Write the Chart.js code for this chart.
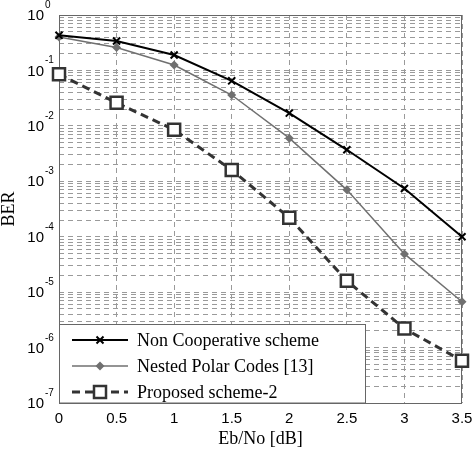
<!DOCTYPE html>
<html>
<head>
<meta charset="utf-8">
<script src="https://cdn.jsdelivr.net/npm/chart.js@4"></script>
<style>
  body { margin: 0; background: #fff; }
  canvas { display: block; }
</style>
</head>
<body>
<canvas id="chart" width="474" height="453"></canvas>
<script>
'use strict';

// Eb/No values on the x axis (dB)
const ebNo = [0, 0.5, 1, 1.5, 2, 2.5, 3, 3.5];

// BER
const berNonCoop = [0.43, 0.34, 0.19, 0.065, 0.017, 0.0037, 0.00074, 0.0001];
const berNested = [0.40, 0.26, 0.125, 0.036, 0.006, 0.0007, 0.000049, 0.0000067];
const berProposed = [0.085, 0.026, 0.0085, 0.0016, 0.00022, 0.000016, 0.0000022, 0.00000058];

// Series names
const seriesNames = ['Non Cooperative scheme', 'Nested Polar Codes [13]', 'Proposed scheme-2'];

// Tick labels
const xTicks = [0, 0.5, 1, 1.5, 2, 2.5, 3, 3.5];
const yExponents = [0, -1, -2, -3, -4, -5, -6, -7];

// Plot box in px
const PLOT = { left: 59, right: 462, top: 15, bottom: 403 };

const SERIF = '"Liberation Serif", "DejaVu Serif", serif';
const SANS = '"Liberation Sans", Arial, sans-serif';

// Grid lines at 1..9 x 10^k
const yGridValues = [];
yExponents.slice().reverse().forEach(e => {
  for (let m = 1; m <= 9; m++) {
    if (e === 0 && m > 1) break;
    yGridValues.push(m * Math.pow(10, e));
  }
});

const toPoints = (ys) => ys.map((y, i) => ({ x: ebNo[i], y: y }));

// Marker drawing, used for the legend
function drawMarker(ctx, style, x, y) {
  ctx.save();
  ctx.setLineDash([]);
  if (style === 'cross') {
    ctx.strokeStyle = '#000';
    ctx.lineWidth = 2;
    ctx.beginPath();
    ctx.moveTo(x - 3.5, y - 3.5); ctx.lineTo(x + 3.5, y + 3.5);
    ctx.moveTo(x + 3.5, y - 3.5); ctx.lineTo(x - 3.5, y + 3.5);
    ctx.stroke();
  } else if (style === 'diamond') {
    ctx.fillStyle = '#707070';
    ctx.beginPath();
    ctx.moveTo(x, y - 4.5); ctx.lineTo(x + 4.5, y);
    ctx.lineTo(x, y + 4.5); ctx.lineTo(x - 4.5, y);
    ctx.closePath();
    ctx.fill();
  } else {
    ctx.fillStyle = '#fff';
    ctx.strokeStyle = '#333';
    ctx.lineWidth = 2.5;
    ctx.fillRect(x - 6, y - 6, 12, 12);
    ctx.strokeRect(x - 6, y - 6, 12, 12);
  }
  ctx.restore();
}

// White background, frame, y labels with exponents, legend box
const decorations = {
  id: 'decorations',
  beforeDraw(chart) {
    const { ctx } = chart;
    ctx.save();
    ctx.fillStyle = '#fff';
    ctx.fillRect(0, 0, chart.width, chart.height);
    ctx.restore();
  },
  beforeDatasetsDraw(chart) {
    const { ctx, chartArea } = chart;
    ctx.save();
    ctx.strokeStyle = '#666';
    ctx.lineWidth = 1;
    ctx.strokeRect(chartArea.left + 0.5, chartArea.top + 0.5,
      chartArea.right - chartArea.left - 1, chartArea.bottom - chartArea.top);
    ctx.restore();
  },
  afterDraw(chart) {
    const { ctx } = chart;
    const yScale = chart.scales.y;
    ctx.save();
    ctx.fillStyle = '#000';
    yExponents.forEach(e => {
      const y = yScale.getPixelForValue(Math.pow(10, e));
      ctx.font = '15px ' + SANS;
      ctx.textAlign = 'right';
      ctx.textBaseline = 'middle';
      ctx.fillText('10', 44, y + 1);
      ctx.font = '10px ' + SANS;
      ctx.textAlign = 'left';
      ctx.textBaseline = 'alphabetic';
      ctx.fillText(String(e), 45, y - 7);
    });

    // Legend in the lower-left corner of the plot
    const box = { left: 59.5, top: 324.5, right: 365.5, bottom: 403 };
    ctx.fillStyle = '#fff';
    ctx.fillRect(box.left, box.top, box.right - box.left, box.bottom - box.top);
    ctx.strokeStyle = '#666';
    ctx.lineWidth = 1;
    ctx.strokeRect(box.left, box.top, box.right - box.left, box.bottom - box.top);

    const rows = [340, 366, 392];
    chart.data.datasets.forEach((ds, i) => {
      const y = rows[i];
      ctx.save();
      ctx.strokeStyle = ds.borderColor;
      ctx.lineWidth = ds.borderWidth;
      ctx.setLineDash(ds.borderDash || []);
      ctx.beginPath();
      ctx.moveTo(72, y);
      ctx.lineTo(128, y);
      ctx.stroke();
      ctx.restore();
      drawMarker(ctx, ds.markerName, 100, y);
      ctx.fillStyle = '#000';
      ctx.font = '18px ' + SERIF;
      ctx.textAlign = 'left';
      ctx.textBaseline = 'middle';
      ctx.fillText(ds.label, 137, y + 1);
    });
    ctx.restore();
  }
};

const gridStyle = {
  color: '#9a9a9a',
  lineWidth: 1,
  drawTicks: false
};

new Chart(document.getElementById('chart'), {
  type: 'line',
  data: {
    datasets: [
      {
        label: seriesNames[0],
        data: toPoints(berNonCoop),
        borderColor: '#000',
        borderWidth: 2,
        pointStyle: 'crossRot',
        pointRadius: 5,
        pointBorderWidth: 2,
        pointBorderColor: '#000',
        clip: false,
        markerName: 'cross'
      },
      {
        label: seriesNames[1],
        data: toPoints(berNested),
        borderColor: '#707070',
        borderWidth: 1.5,
        pointStyle: 'rectRot',
        pointRadius: 4.5,
        pointBorderWidth: 0,
        pointBackgroundColor: '#707070',
        clip: false,
        markerName: 'diamond'
      },
      {
        label: seriesNames[2],
        data: toPoints(berProposed),
        borderColor: '#333',
        borderWidth: 3,
        borderDash: [8, 5],
        pointStyle: 'rect',
        pointRadius: 8.5,
        pointBorderWidth: 2.5,
        pointBorderColor: '#333',
        pointBackgroundColor: '#fff',
        clip: false,
        markerName: 'square'
      }
    ]
  },
  options: {
    responsive: false,
    animation: false,
    devicePixelRatio: 1,
    layout: {
      padding: { top: PLOT.top, right: 474 - PLOT.right, left: 0, bottom: 0 }
    },
    plugins: {
      legend: { display: false },
      tooltip: { enabled: false }
    },
    scales: {
      x: {
        type: 'linear',
        min: 0,
        max: 3.5,
        afterBuildTicks: (scale) => { scale.ticks = xTicks.map(v => ({ value: v })); },
        afterFit: (scale) => {
          scale.height = 453 - PLOT.bottom;
          scale.paddingLeft = 0;
          scale.paddingRight = 0;
        },
        grid: gridStyle,
        border: { display: false, dash: [5, 4] },
        ticks: {
          color: '#000',
          padding: 7,
          maxRotation: 0,
          font: { family: SANS, size: 15 },
          callback: (v) => String(v)
        },
        title: {
          display: true,
          text: 'Eb/No [dB]',
          color: '#000',
          font: { family: SERIF, size: 18 },
          padding: { top: 0, bottom: 3 }
        }
      },
      y: {
        type: 'logarithmic',
        min: 1e-7,
        max: 1,
        afterBuildTicks: (scale) => { scale.ticks = yGridValues.map(v => ({ value: v })); },
        afterFit: (scale) => {
          scale.width = PLOT.left;
          scale.paddingTop = 0;
          scale.paddingBottom = 0;
        },
        grid: gridStyle,
        border: { display: false, dash: [5, 4] },
        ticks: { display: false },
        title: {
          display: true,
          text: 'BER',
          color: '#000',
          font: { family: SERIF, size: 18, lineHeight: 1 },
          padding: { top: 0, bottom: 0 }
        }
      }
    }
  },
  plugins: [decorations]
});
</script>
</body>
</html>
